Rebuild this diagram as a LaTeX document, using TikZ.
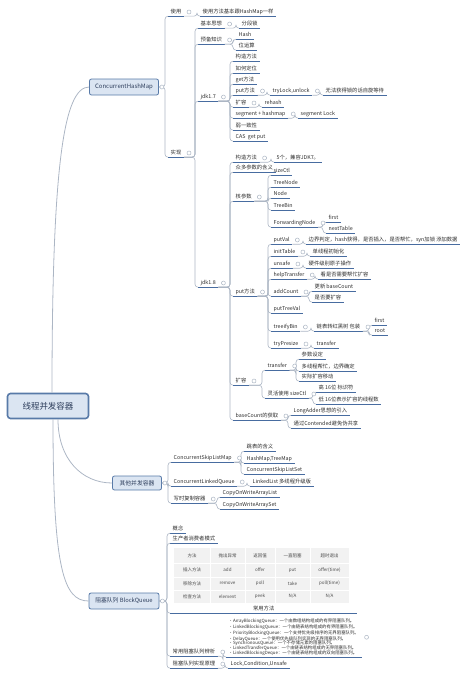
\documentclass[tikz,border=0pt]{standalone}
\usepackage{fontspec}
\setmainfont{Noto Sans CJK SC}
\usetikzlibrary{calc}
\definecolor{ulblue}{RGB}{72,108,160}
\definecolor{conngray}{RGB}{172,182,196}
\definecolor{boxfill}{RGB}{219,229,242}
\definecolor{boxline}{RGB}{88,122,168}
\definecolor{boxtxt}{RGB}{46,62,92}
\definecolor{txtgray}{RGB}{45,45,45}
\definecolor{tblbg}{RGB}{242,242,242}

\tikzset{
  uline/.style={draw=ulblue, line width=0.8pt},
  topicbase/.style={anchor=west, text=txtgray, inner xsep=2.5pt, inner ysep=1.2pt,
    append after command={(\tikzlastnode.south west) edge[uline] (\tikzlastnode.south east)}},
  topic/.style={topicbase, font=\fontsize{5.3}{6}\selectfont, text height=4.6pt, text depth=1pt},
  box/.style={draw=boxline, fill=boxfill, rounded corners=2pt, line width=0.8pt,
    text=boxtxt, font=\fontsize{5.8}{7}\selectfont},
  rootbox/.style={box, line width=1.6pt, rounded corners=3pt, font=\fontsize{8.5}{10}\selectfont,
    minimum width=81pt, minimum height=25pt},
  conn/.style={draw=conngray, line width=0.6pt, rounded corners=3pt},
  fold/.style={circle, draw=conngray, fill=white, line width=0.5pt, inner sep=0pt, minimum size=4pt},
  cell/.style={font=\fontsize{4.5}{5}\selectfont, text=black!70},
}

\begin{document}
\begin{tikzpicture}[x=1pt,y=-1pt]
\useasboundingbox (0,0) rectangle (474,677);

% main boxes
\node[rootbox] (root) at (48,406) {线程并发容器};
\node[box, minimum width=69pt, minimum height=16pt, font=\fontsize{6}{7}\selectfont] (chm) at (124,87) {ConcurrentHashMap};
\node[box, minimum width=49pt, minimum height=14pt] (other) at (137,483) {其他并发容器};
\node[box, minimum width=70pt, minimum height=16pt] (bq) at (124,601) {阻塞队列 BlockQueue};

% ConcurrentHashMap
\node[topic] (use) at (168,12) {使用};
\node[topic] (usea) at (200,12) {使用方法基本跟HashMap一样};
\node[topic] (impl) at (168,153) {实现};
\node[topic] (idea) at (198,24) {基本思想};
\node[topic] (ideaa) at (239,24) {分段锁};
\node[topic] (pre) at (198,40) {预备知识};
\node[topic] (prea) at (236,35) {Hash};
\node[topic] (preb) at (236,46) {位运算};

\node[topic] (j7) at (198,97) {jdk1.7};
\node[topic] (j7a) at (233,57) {构造方法};
\node[topic] (j7b) at (233,69) {如何定位};
\node[topic] (j7c) at (233,80) {get方法};
\node[topic] (j7d) at (233,91) {put方法};
\node[topic] (j7d1) at (270,91) {tryLock,unlock};
\node[topic] (j7d2) at (323,91) {无法获得锁的话自旋等待};
\node[topic] (j7e) at (233,103) {扩容};
\node[topic] (j7e1) at (262,103) {rehash};
\node[topic] (j7f) at (233,114) {segment + hashmap};
\node[topic] (j7f1) at (298,114) {segment Lock};
\node[topic] (j7g) at (233,126) {弱一致性};
\node[topic] (j7h) at (233,137) {CAS\ \ get put};

\node[topic] (j8) at (198,283) {jdk1.8};
\node[topic] (j8a) at (233,158) {构造方法};
\node[topic] (j8a1) at (274,158) {5个，兼容JDK7。};
\node[topic] (j8b) at (233,168) {众多参数的含义};
\node[topic] (j8c) at (233,197) {核参数};
\node[topic] (cf1) at (271,171) {sizeCtl};
\node[topic] (cf2) at (271,183) {TreeNode};
\node[topic] (cf3) at (271,194) {Node};
\node[topic] (cf4) at (271,206) {TreeBin};
\node[topic] (fwd) at (271,223) {ForwardingNode};
\node[topic] (fwda) at (326,218) {first};
\node[topic] (fwdb) at (326,229) {nextTable};

\node[topic] (j8d) at (233,292) {put方法};
\node[topic] (putval) at (271,240) {putVal};
\node[topic] (putvala) at (306,240) {边界判定，hash获得，是否插入，是否帮忙，syn加锁 添加数据};
\node[topic] (inittable) at (271,252) {initTable};
\node[topic] (inittablea) at (310,252) {单线程初始化};
\node[topic] (unsafe) at (271,264) {unsafe};
\node[topic] (unsafea) at (306,264) {硬件级别原子操作};
\node[topic] (helptr) at (271,275) {helpTransfer};
\node[topic] (helptra) at (318,275) {看是否需要帮忙扩容};
\node[topic] (addcount) at (271,292) {addCount};
\node[topic] (addcounta) at (312,287) {更新 baseCount};
\node[topic] (addcountb) at (312,298) {是否要扩容};
\node[topic] (puttree) at (271,309) {putTreeVal};
\node[topic] (treeify) at (271,327) {treeifyBin};
\node[topic] (treeifya) at (314,327) {链表转红黑树 包装};
\node[topic] (treeifyb) at (372,321) {first};
\node[topic] (treeifyc) at (372,331) {root};
\node[topic] (trypre) at (271,344) {tryPresize};
\node[topic] (trypresa) at (314,344) {transfer};

\node[topic] (j8e) at (233,381) {扩容};
\node[topic] (transfer) at (265,366) {transfer};
\node[topic] (transa) at (299,355) {参数设定};
\node[topic] (transb) at (299,367) {多线程帮忙，边界确定};
\node[topic] (transc) at (299,377) {实际扩容移动};
\node[topic] (flex) at (265,394) {灵活使用 sizeCtl};
\node[topic] (flexa) at (316,388) {高 16位 标识符};
\node[topic] (flexb) at (316,400) {低 16位表示扩容的线程数};
\node[topic] (j8f) at (233,416) {baseCount的获取};
\node[topic] (j8fa) at (291,411) {LongAdder思想的引入};
\node[topic] (j8fb) at (291,424) {通过Contended避免伪共享};

% other containers
\node[topic] (skip) at (171,458) {ConcurrentSkipListMap};
\node[topic] (skipa) at (244,447) {跳表的含义};
\node[topic] (skipb) at (244,459) {HashMap,TreeMap};
\node[topic] (skipc) at (244,470) {ConcurrentSkipListSet};
\node[topic] (clq) at (171,482) {ConcurrentLinkedQueue};
\node[topic] (clqa) at (250,482) {LinkedList 多线程升级版};
\node[topic] (cow) at (171,499) {写时复制容器};
\node[topic] (cowa) at (220,493) {CopyOnWriteArrayList};
\node[topic] (cowb) at (220,505) {CopyOnWriteArraySet};

% blocking queue
\node[topic] (bqidea) at (170,529) {概念};
\node[topic] (bqmode) at (170,539) {生产者消费者模式};
\node[topic, minimum width=187pt] (bqmeth) at (170,609) {常用方法};
\node[topic] (bqsel) at (170,652) {常用阻塞队列辨析};
\node[topicbase, anchor=south west, align=left, font=\fontsize{4.4}{4.8}\selectfont] (bqlist) at (226,657)
  {·ArrayBlockingQueue：一个由数组结构组成的有界阻塞队列。\\
   ·LinkedBlockingQueue：一个由链表结构组成的有界阻塞队列。\\
   ·PriorityBlockingQueue：一个支持优先级排序的无界阻塞队列。\\
   ·DelayQueue：一个使用优先级队列实现的无界阻塞队列。\\
   ·SynchronousQueue：一个不存储元素的阻塞队列。\\
   ·LinkedTransferQueue：一个由链表结构组成的无界阻塞队列。\\
   ·LinkedBlockingDeque：一个由链表结构组成的双向阻塞队列。};
\node[topic] (bqimpl) at (170,664) {阻塞队列实现原理};
\node[topic] (bqimpla) at (228,664) {Lock,Condition,Unsafe};

% table
\fill[tblbg] (174,548) rectangle (349,603);
\foreach \x in {210,245,275,310} \draw[white, line width=1pt] (\x,548) -- (\x,603);
\foreach \y in {563,577,590} \draw[white, line width=1pt] (174,\y) -- (349,\y);
\foreach \y/\a/\b/\c/\d/\e [count=\r] in {555.5/方法/抛出异常/返回值/一直阻塞/超时退出,
    570/插入方法/add/offer/put/offer(time), 583.5/移除方法/remove/poll/take/poll(time),
    596.5/检查方法/element/peek/{N/A}/{N/A}} {
  \node[cell] (t\r-1) at (192,\y) {\a};
  \node[cell] (t\r-2) at (227.5,\y) {\b};
  \node[cell] (t\r-3) at (260,\y) {\c};
  \node[cell] (t\r-4) at (292.5,\y) {\d};
  \node[cell] (t\r-5) at (329.5,\y) {\e};
}

% connectors
\draw[conn, line width=0.8pt] ([xshift=4pt]root.north) .. controls +(0,-230) and +(-25,0) .. (chm.west);
\draw[conn, line width=0.8pt] ([xshift=10pt]root.south) .. controls +(0,40) and +(-30,0) .. (other.west);
\draw[conn, line width=0.8pt] ([xshift=5pt]root.south) .. controls +(0,150) and +(-25,0) .. (bq.west);

\foreach \p/\cs in {chm/{use,impl}, other/{skip,clq,cow}, bq/{bqidea,bqmode,bqmeth,bqsel,bqimpl}}
  \foreach \c in \cs
    \draw[conn] (\p.east) -| ([xshift=-3pt]\c.south west) -- (\c.south west);

\foreach \p/\cs in {use/{usea}, impl/{idea,pre,j7,j8}, idea/{ideaa}, pre/{prea,preb},
    j7/{j7a,j7b,j7c,j7d,j7e,j7f,j7g,j7h}, j7d/{j7d1}, j7d1/{j7d2}, j7e/{j7e1}, j7f/{j7f1},
    j8/{j8a,j8b,j8c,j8d,j8e,j8f}, j8a/{j8a1}, j8c/{cf1,cf2,cf3,cf4,fwd}, fwd/{fwda,fwdb},
    j8d/{putval,inittable,unsafe,helptr,addcount,puttree,treeify,trypre},
    putval/{putvala}, inittable/{inittablea}, unsafe/{unsafea}, helptr/{helptra},
    addcount/{addcounta,addcountb}, treeify/{treeifya}, treeifya/{treeifyb,treeifyc},
    trypre/{trypresa}, j8e/{transfer,flex}, transfer/{transa,transb,transc}, flex/{flexa,flexb},
    j8f/{j8fa,j8fb}, skip/{skipa,skipb,skipc}, clq/{clqa}, cow/{cowa,cowb},
    bqsel/{bqlist}, bqimpl/{bqimpla}}
  \foreach \c in \cs
    \draw[conn] (\p.south east) -| ([xshift=-3pt]\c.south west) -- (\c.south west);

% fold markers
\foreach \p in {use,impl,idea,pre,j7,j7d,j7d1,j7e,j7f,j8,j8a,j8c,fwd,j8d,putval,inittable,unsafe,
    helptr,addcount,treeify,treeifya,trypre,j8e,transfer,flex,j8f,skip,clq,cow,bqsel,bqlist,bqimpl}
  \node[fold] (\p-f) at ([xshift=5pt]\p.east) {};
\foreach \p in {chm,other,bq}
  \node[fold] (\p-f) at ([xshift=3pt]\p.east) {};

\end{tikzpicture}
\end{document}
